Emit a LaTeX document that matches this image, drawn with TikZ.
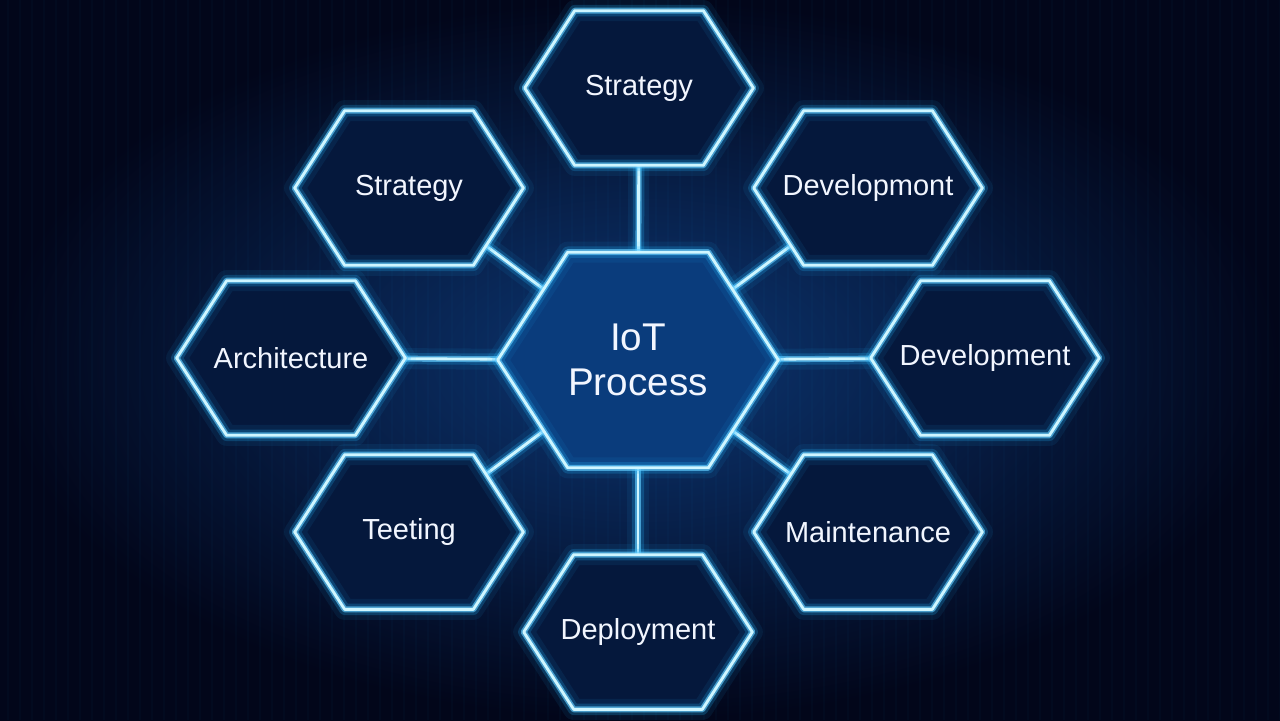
\documentclass[tikz,border=0pt]{standalone}
\usepackage{fontspec}
\setmainfont{Liberation Sans}
\definecolor{bgc}{HTML}{0C3672}
\definecolor{bge}{HTML}{02061A}
\definecolor{glow}{HTML}{22B8FF}
\definecolor{core}{HTML}{CFF6FF}
\definecolor{hexfill}{HTML}{05183C}
\definecolor{cenfill}{HTML}{0A3C7C}
\definecolor{txt}{HTML}{F2F6FF}
\pgfdeclarelayer{bglayer}
\pgfdeclarelayer{lineslayer}
\pgfdeclarelayer{hexlayer}
\pgfsetlayers{bglayer,lineslayer,hexlayer,main}
\newcommand\hexp[2]{(#1.west) -- ([xshift=#2]#1.north west) -- ([xshift=-#2]#1.north east) -- (#1.east) -- ([xshift=-#2]#1.south east) -- ([xshift=#2]#1.south west) -- cycle}
\tikzset{
  outerhex/.style={rectangle, inner sep=0pt, minimum width=4.56cm, minimum height=3.08cm, text=txt, font=\fontsize{16.5}{20}\selectfont},
  centerhex/.style={rectangle, inner sep=0pt, minimum width=5.6cm, minimum height=4.3cm, text=txt, align=center, font=\fontsize{22}{26}\selectfont},
  glowA/.style={draw=glow, line width=12pt, opacity=0.08, line join=round},
  glowB/.style={draw=glow, line width=6.5pt, opacity=0.22, line join=round},
  glowC/.style={draw=glow!70!white, line width=3.4pt, opacity=0.65, line join=round},
  coreline/.style={draw=core, line width=1.6pt, line join=round},
  bgstripe/.style={draw=glow, opacity=0.022, line width=0.6pt}
}
\newcommand\glowhex[3]{%
  \fill[#3] \hexp{#1}{#2};
  \draw[glowA] \hexp{#1}{#2};
  \draw[glowB] \hexp{#1}{#2};
  \draw[glowC] \hexp{#1}{#2};
  \draw[coreline] \hexp{#1}{#2};
}
\begin{document}
\begin{tikzpicture}[x=0.02cm, y=-0.02cm]
\useasboundingbox (0,0) rectangle (1280,720);
% nodes
\node[centerhex] (c) at (638,360) {IoT\\Process};
\node[outerhex] (s1) at (639,88) {Strategy};
\node[outerhex] (s2) at (409,188) {Strategy};
\node[outerhex] (d1) at (868,188) {Developmont};
\node[outerhex] (a) at (291,358) {Architecture};
\node[outerhex] (d2) at (985,358) {Development};
\node[outerhex] (t) at (409,532) {Teeting};
\node[outerhex] (m) at (868,532) {Maintenance};
\node[outerhex] (dp) at (638,632) {Deployment};
% background
\begin{pgfonlayer}{bglayer}
  \shade[inner color=bgc, outer color=bge] (0,0) rectangle (1280,720);
  \foreach \xx in {8,20,...,1280} {\draw[bgstripe] (\xx,0) -- (\xx,720);}
\end{pgfonlayer}
% connectors
\begin{pgfonlayer}{lineslayer}
  \foreach \n in {s1,s2,d1,a,d2,t,m,dp} {
    \draw[glowA] (c.center) -- (\n.center);
    \draw[glowB] (c.center) -- (\n.center);
    \draw[glowC] (c.center) -- (\n.center);
    \draw[coreline] (c.center) -- (\n.center);
  }
\end{pgfonlayer}
% hexagons
\begin{pgfonlayer}{hexlayer}
  \glowhex{c}{1.4cm}{cenfill}
  \foreach \n in {s1,s2,d1,a,d2,t,m,dp} {\glowhex{\n}{1.0cm}{hexfill}}
\end{pgfonlayer}
\end{tikzpicture}
\end{document}
